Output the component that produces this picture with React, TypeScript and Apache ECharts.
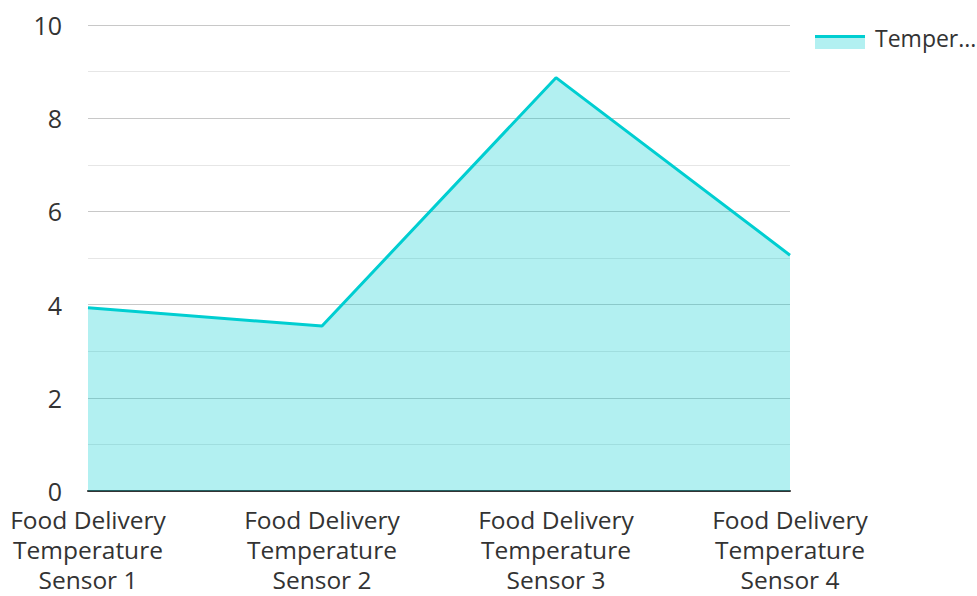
import React, { useEffect, useRef } from "react";
import * as echarts from "echarts";

const categories = [
  "Food Delivery\nTemperature\nSensor 1",
  "Food Delivery\nTemperature\nSensor 2",
  "Food Delivery\nTemperature\nSensor 3",
  "Food Delivery\nTemperature\nSensor 4",
];
const seriesName = "Temperature";
const values = [3.93, 3.54, 8.87, 5.06];

export default function App() {
  const ref = useRef<HTMLDivElement>(null);
  useEffect(() => {
    const chart = echarts.init(ref.current!, null, { renderer: "svg" });
    const font = "'Open Sans', 'Noto Sans', sans-serif";
    chart.setOption({
      animation: false,
      textStyle: { fontFamily: font },
      grid: {
        left: 88,
        right: 187,
        top: 25,
        bottom: 105,
        containLabel: false,
        outerBoundsMode: "none",
      },
      legend: {
        show: true,
        top: 21,
        left: 815,
        itemWidth: 50,
        itemHeight: 14,
        itemGap: 10,
        icon: "rect",
        itemStyle: { color: "rgba(0,0,0,0)", borderWidth: 0 },
        formatter: (name: string) => name.slice(0, 6) + "...",
        textStyle: {
          fontSize: 23,
          color: "#333",
          fontFamily: font,
        },
        data: [seriesName],
      },
      graphic: [
        {
          type: "rect",
          shape: { x: 815, y: 35, width: 50, height: 14 },
          style: { fill: "rgba(0,206,209,0.3)" },
          z: 100,
        },
        {
          type: "line",
          shape: { x1: 815, y1: 36.5, x2: 865, y2: 36.5 },
          style: { stroke: "#00CED1", lineWidth: 3 },
          z: 101,
        },
      ],
      xAxis: {
        type: "category",
        boundaryGap: false,
        data: categories,
        axisLine: { show: true, lineStyle: { color: "#333", width: 2 } },
        axisTick: { show: false },
        axisLabel: {
          fontSize: 24.5,
          lineHeight: 30,
          color: "#333",
          margin: 13,
          fontFamily: font,
        },
        splitLine: { show: false },
      },
      yAxis: {
        type: "value",
        min: 0,
        max: 10,
        interval: 2,
        axisLine: { show: false },
        axisTick: { show: false },
        axisLabel: { fontSize: 25, lineHeight: 20, color: "#333", margin: 26, fontFamily: font },
        splitLine: { show: true, lineStyle: { color: "#c8c8c8", width: 1 } },
        minorTick: { show: false, splitNumber: 2 },
        minorSplitLine: { show: true, lineStyle: { color: "#e6e6e6", width: 1 } },
      },
      series: [
        {
          name: seriesName,
          type: "line",
          data: values,
          symbol: "none",
          lineStyle: { color: "#00CED1", width: 3 },
          itemStyle: { color: "#00CED1" },
          areaStyle: { color: "rgba(0,206,209,0.3)", opacity: 1 },
        },
      ],
    });
    return () => chart.dispose();
  }, []);
  return <div ref={ref} style={{ width: 977, height: 596, position: "absolute", left: 0, top: 0 }} />;
}
